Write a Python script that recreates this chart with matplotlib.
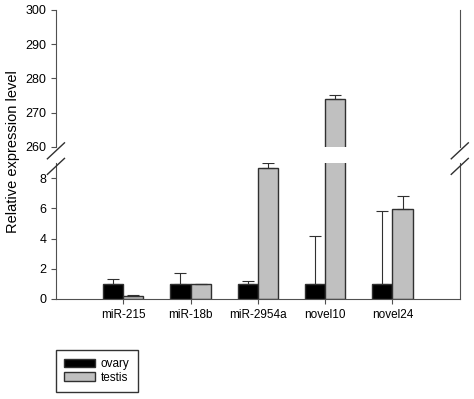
import matplotlib.pyplot as plt
from matplotlib.patches import Patch
from matplotlib.lines import Line2D

plt.rcParams['font.family'] = ['Liberation Sans', 'DejaVu Sans']

genes = ['miR-215', 'miR-18b', 'miR-2954a', 'novel10', 'novel24']
ovary = [1.0, 1.0, 1.0, 1.0, 1.0]
ovary_err = [0.35, 0.7, 0.2, 3.2, 4.85]
testis = [0.2, 1.0, 8.7, 274.0, 5.95]
testis_err = [0.05, 0.0, 0.3, 1.2, 0.85]

edge = '#303030'
gray = '#c0c0c0'
x = list(range(1, len(genes) + 1))
w = 0.3

fig = plt.figure(figsize=(4.74, 3.99), dpi=100)
ax_top = fig.add_axes([0.118, 0.632, 0.852, 0.343])
ax_bot = fig.add_axes([0.118, 0.251, 0.852, 0.340])

for ax in (ax_top, ax_bot):
    xo = [i - w / 2 for i in x]
    xt = [i + w / 2 for i in x]
    ax.bar(xo, ovary, w, color='black', edgecolor=edge, linewidth=1)
    ax.bar(xt, testis, w, color=gray, edgecolor=edge, linewidth=1)
    ax.errorbar(xo, ovary, yerr=[[0] * 5, ovary_err], fmt='none',
                ecolor=edge, elinewidth=0.8, capsize=4, capthick=0.8)
    ax.errorbar(xt, testis, yerr=[[0] * 5, testis_err], fmt='none',
                ecolor=edge, elinewidth=0.8, capsize=4, capthick=0.8)
    ax.set_xlim(0, 6)
    ax.spines['top'].set_visible(False)
    for s in ('left', 'right', 'bottom'):
        ax.spines[s].set_color('#505050')
    ax.tick_params(axis='y', direction='out', labelsize=9, color='#505050')

ax_top.set_ylim(260, 300)
ax_top.set_yticks([260, 270, 280, 290, 300])
ax_top.spines['bottom'].set_visible(False)
ax_top.set_xticks([])

ax_bot.set_ylim(0, 9)
ax_bot.set_yticks([0, 2, 4, 6, 8])
ax_bot.set_xticks(x)
ax_bot.set_xticklabels(genes, fontsize=8.5)
ax_bot.tick_params(axis='x', direction='out', color='#505050')

fig.text(0.028, 0.62, 'Relative expression level', rotation=90,
         ha='center', va='center', fontsize=10.5)

# break marks
for xc in (0.118, 0.970):
    for yc in (0.622, 0.583):
        fig.add_artist(Line2D([xc - 0.018, xc + 0.018], [yc - 0.02, yc + 0.02],
                              color='#303030', linewidth=1))

handles = [Patch(facecolor='black', edgecolor=edge, label='ovary'),
           Patch(facecolor=gray, edgecolor=edge, label='testis')]
fig.legend(handles=handles, loc='upper left', bbox_to_anchor=(0.118, 0.124),
           fontsize=8.5, frameon=True, fancybox=False, edgecolor='black',
           handlelength=2.6, handleheight=0.7, borderpad=0.7, labelspacing=0.15,
           handletextpad=0.5, borderaxespad=0)

plt.savefig('out.png', dpi=100)
